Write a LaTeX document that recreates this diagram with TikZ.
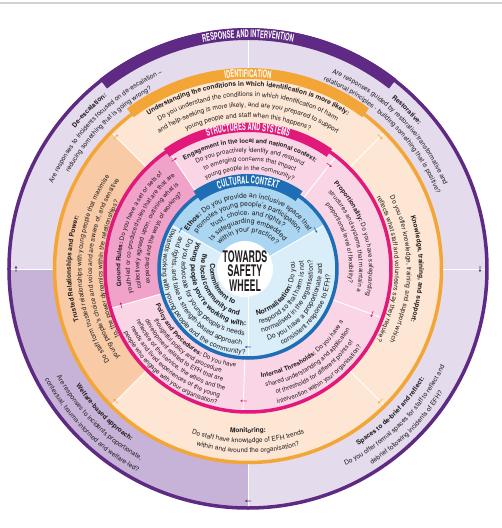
\documentclass[tikz,border=0pt]{standalone}
\usepackage{fontspec}
\setmainfont{TeX Gyre Heros}
\newfontfamily\tswhead[FakeStretch=0.55]{TeX Gyre Heros}
\usepackage{xcolor}
\definecolor{tswpurple}{HTML}{5E2A84}
\definecolor{tswlilac}{HTML}{E4DBEC}
\definecolor{tswlilacdk}{HTML}{C8B3D8}
\definecolor{tsworange}{HTML}{F3A535}
\definecolor{tswpeach}{HTML}{FDE6D3}
\definecolor{tswpeachdk}{HTML}{F8CAA5}
\definecolor{tswpink}{HTML}{E0197A}
\definecolor{tswrose}{HTML}{FAD5E6}
\definecolor{tswrosedk}{HTML}{F0A2C9}
\definecolor{tswblue}{HTML}{1F6DB5}
\definecolor{tswsky}{HTML}{DAEEFA}
\definecolor{tswskydk}{HTML}{ABD6F2}
\definecolor{tswink}{HTML}{231F20}
\usepackage{tikz}
\usetikzlibrary{arrows.meta,decorations.text}
\tikzset{
  tswring/.style={draw=#1,line width=3.5pt},
  tswsector/.style={draw=white,line width=0.9pt},
  tswflow/.style={draw=#1,line width=0.6pt,-{Stealth[length=2.4pt,width=2.6pt]}},
}
% text sizes
\newcommand\tswrm{\fontsize{6.6}{7}\selectfont\mdseries}
\newcommand\tswbf{\fontsize{6.6}{7}\selectfont\bfseries}
\newcommand\tswrms{\fontsize{6.3}{7}\selectfont\mdseries}
\newcommand\tswbfs{\fontsize{6.3}{7}\selectfont\bfseries}
\newcommand\tswrmb{\fontsize{7}{7}\selectfont\mdseries}
\newcommand\tswbfb{\fontsize{7}{7}\selectfont\bfseries}
% one line of text on an arc: radius, centre angle, text
\newcommand\tswcw[3]{\path[decorate,decoration={text along path,text align=center,text color=tswink,text={#3}}]
  ({#2+89}:#1) arc[start angle={#2+89},end angle={#2-89},radius=#1];}
\newcommand\tswccw[3]{\path[decorate,decoration={text along path,text align=center,text color=tswink,text={#3}}]
  ({#2-89}:#1) arc[start angle={#2-89},end angle={#2+89},radius=#1];}
\newcommand\tswtitle[2]{\path[decorate,decoration={text along path,text align=center,text color=white,
  text={|\tswhead\bfseries\fontsize{10.5}{10.5}\selectfont|#2}}]
  (150:#1) arc[start angle=150,end angle=30,radius=#1];}
\newcommand\tswmark[3]{\draw[tswflow=#1] ({#2+180/#3}:#3) arc[start angle={#2+180/#3},end angle={#2-180/#3},radius=#3];}

\begin{document}
\begin{tikzpicture}[x=1pt,y=1pt]
\useasboundingbox (-248,-259) rectangle (254,269);
\draw[black!18,line width=1.2pt] (-248,266) -- (254,266);

% rings and sectors
\fill[tswlilac] (0,0) circle[radius=239];
\fill[tswlilacdk] (0,0) -- (180:239) arc[start angle=180,end angle=270,radius=239] -- cycle;
\fill[tswpeach] (0,0) circle[radius=193.5];
\fill[tswpeachdk] (0,0) -- (135:193.5) arc[start angle=135,end angle=225,radius=193.5] -- cycle;
\fill[tswrose] (0,0) circle[radius=143];
\fill[tswrosedk] (0,0) -- (124:143) arc[start angle=124,end angle=196,radius=143] -- cycle;
\fill[tswsky] (0,0) circle[radius=89];
\fill[tswskydk] (0,0) -- (30:89) arc[start angle=30,end angle=150,radius=89] -- cycle;

\foreach \a in {0,90,180,270} \draw[tswsector] (\a:193.5) -- (\a:239);
\foreach \a in {45,135,225,315} \draw[tswsector] (\a:143) -- (\a:193.5);
\foreach \a in {52,124,196,268,340} \draw[tswsector] (\a:89) -- (\a:143);
\foreach \a in {30,150,270} \draw[tswsector] (\a:20) -- (\a:89);

\draw[tswring=tswpurple] (0,0) circle[radius=239];
\draw[tswring=tsworange] (0,0) circle[radius=193.5];
\draw[tswring=tswpink] (0,0) circle[radius=143];
\draw[tswring=tswblue] (0,0) circle[radius=89];

% title bands
\fill[tswpurple] (52:241) arc[start angle=52,end angle=128,radius=241] -- (128:229) arc[start angle=128,end angle=52,radius=229] -- cycle;
\fill[tsworange] (53:201) arc[start angle=53,end angle=127,radius=201] -- (127:190) arc[start angle=127,end angle=53,radius=190] -- cycle;
\fill[tswpink] (55:146.5) arc[start angle=55,end angle=125,radius=146.5] -- (125:137) arc[start angle=125,end angle=55,radius=137] -- cycle;
\fill[tswblue] (55:95) arc[start angle=55,end angle=125,radius=95] -- (125:83) arc[start angle=125,end angle=55,radius=83] -- cycle;

\fill[white] (-3,0) circle[radius=28];
\node[font=\tswhead\bfseries\fontsize{16}{14.5}\selectfont,align=center,text=tswink] (hub) at (-3,-2) {TOWARDS\\SAFETY\\WHEEL};

% clockwise marks
\foreach \a in {0,90,180,270} \tswmark{tswpurple}{\a}{232};
\foreach \a in {45,135,225,315} \tswmark{tsworange}{\a}{187};
\foreach \a in {52,124,196,268,340} \tswmark{tswpink}{\a}{132};
\foreach \a in {30,150,270} \tswmark{tswblue}{\a}{78};

\tswtitle{231.2}{RESPONSE AND INTERVENTION}
\tswtitle{191.8}{IDENTIFICATION}
\tswtitle{138.4}{STRUCTURES AND SYSTEMS}
\tswtitle{85.2}{CULTURAL CONTEXT}

% response and intervention
\tswcw{223}{135}{|\tswbf|De-escalation:}
\tswcw{213}{135}{|\tswrm|Are responses to incidents focused on de-escalation –}
\tswcw{203}{135}{|\tswrm|reducing something that is going wrong?}
\tswcw{223}{45}{|\tswbf|Restorative:}
\tswcw{213}{45}{|\tswrm|Are responses guided by restorative/transformative and}
\tswcw{203}{45}{|\tswrm|relational principles - building something that is positive?}
\tswccw{208}{225}{|\tswbf|Welfare-based approach:}
\tswccw{219.5}{225}{|\tswrm|Are responses to incidents proportionate,}
\tswccw{231}{225}{|\tswrm|contextual, trauma-informed and welfare-led?}
\tswccw{208}{315}{|\tswbf|Spaces to de-brief and reflect:}
\tswccw{219.5}{315}{|\tswrm|Do you offer formal spaces for staff to reflect and}
\tswccw{231}{315}{|\tswrm|debrief following incidents of EFH?}

% identification
\tswcw{183}{90}{|\tswbf|Understanding the conditions in which identification is more likely:}
\tswcw{172.5}{90}{|\tswrm|Do you understand the conditions in which identification of harm}
\tswcw{162}{90}{|\tswrm|and help-seeking is more likely, and are you prepared to support}
\tswcw{151.5}{90}{|\tswrm|young people and staff when this happens?}
\tswcw{171}{0}{|\tswbf|Knowledge, training, and support:}
\tswcw{159}{0}{|\tswrm|Do you offer knowledge, training and support which}
\tswcw{147}{0}{|\tswrm|reflects what staff and volunteers say they require?}
\tswccw{164}{270}{|\tswbf|Monitoring:}
\tswccw{174}{270}{|\tswrm|Do staff have knowledge of EFH trends}
\tswccw{184}{270}{|\tswrm|within and around the organisation?}
\tswcw{177}{180}{|\tswbf|Trusted Relationships and Power:}
\tswcw{166.5}{180}{|\tswrm|Do staff form trusted relationships with young people that maximise}
\tswcw{156}{180}{|\tswrm|young people's choice and voice and are aware of, and sensitive}
\tswcw{145.5}{180}{|\tswrm|to, the power dynamics within the relationships?}

% structures and systems
\tswcw{126}{89}{|\tswbfs|Engagement in the local and national context:}
\tswcw{117}{89}{|\tswrms|Do you proactively identify and respond}
\tswcw{108}{89}{|\tswrms|to emerging concerns that impact}
\tswcw{99}{89}{|\tswrms|young people in the community?}
\tswcw{121}{16}{|\tswbfs|Proportionality: |\tswrms|Do you have safeguarding}
\tswcw{111}{16}{|\tswrms|structures and systems that maintain a}
\tswcw{101}{16}{|\tswrms|proportional level of flexibility?}
\tswccw{109}{304}{|\tswbfs|Internal Thresholds: |\tswrms|Do you have a}
\tswccw{118.5}{304}{|\tswrms|shared understanding and application}
\tswccw{128}{304}{|\tswrms|of thresholds for different points of}
\tswccw{137.5}{304}{|\tswrms|intervention within your organisation?}
\tswccw{99}{232}{|\tswbfs|Policy and Procedures: |\tswrms|Do you have}
\tswccw{107}{232}{|\tswrms|thoughtful policy and procedure}
\tswccw{115}{232}{|\tswrms|development related to EFH that are}
\tswccw{123}{232}{|\tswrms|reflective of the service, the ethos and the}
\tswccw{131}{232}{|\tswrms|needs and lived experiences of the young}
\tswccw{139}{232}{|\tswrms|people who engage with your organisation?}
\tswcw{127.5}{160}{|\tswbfs|Ground Rules: |\tswrms|Do you have a set or sets of}
\tswcw{118}{160}{|\tswrms|youth-led or co-produced rules that are that are}
\tswcw{108.5}{160}{|\tswrms|collectively agreed upon, outlining what is}
\tswcw{99}{160}{|\tswrms|expected and the ways of working?}

% cultural context
\tswcw{71}{90}{|\tswbfb|Ethos: |\tswrmb|Do you provide an inclusive space that}
\tswcw{62.5}{90}{|\tswrmb|promotes young people's participation,}
\tswcw{54}{90}{|\tswrmb|trust, choice, and rights?}
\tswcw{45.5}{90}{|\tswrmb|Is safeguarding embedded}
\tswcw{37}{90}{|\tswrmb|within your practice?}
\tswccw{47}{325}{|\tswbfb|Normalisation: |\tswrmb|Do you}
\tswccw{56}{325}{|\tswrmb|respond so that harm is not}
\tswccw{65}{325}{|\tswrmb|normalised in the organisation?}
\tswccw{74}{325}{|\tswrmb|Do you have a proportionate and}
\tswccw{83}{325}{|\tswrmb|consistent response to EFH?}
\tswccw{38}{210}{|\tswbfb|Commitment to}
\tswccw{47.5}{210}{|\tswbfb|the local community and}
\tswccw{57}{210}{|\tswbfb|young people you're working with:}
\tswccw{66.5}{210}{|\tswrmb|Do you advocate for young people's needs}
\tswccw{76}{210}{|\tswrmb|and rights, and take a strength-based approach}
\tswccw{85.5}{210}{|\tswrmb|towards working with young people and the community?}
\end{tikzpicture}
\end{document}
